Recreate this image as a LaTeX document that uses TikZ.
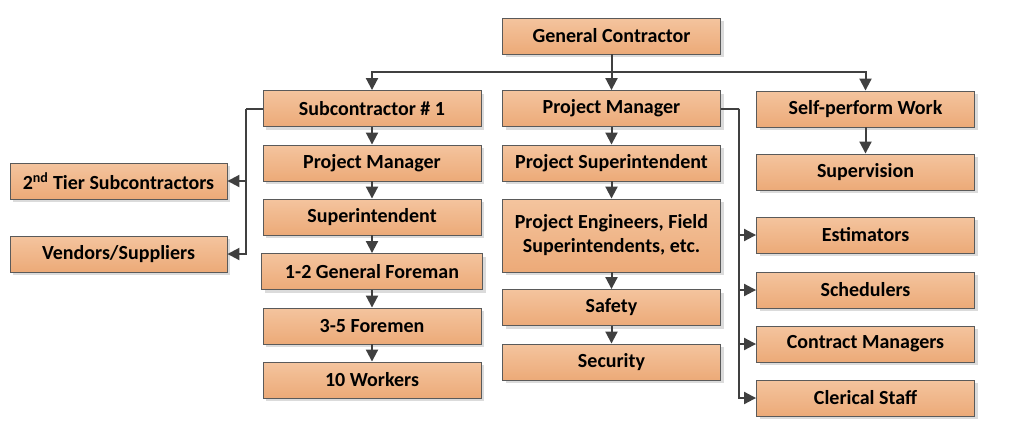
\documentclass[tikz,border=0pt]{standalone}
\usepackage{fontspec}
\setmainfont{Carlito}
\usetikzlibrary{arrows.meta,shadows}
\definecolor{boxtop}{HTML}{F4C49E}
\definecolor{boxbot}{HTML}{ECAA78}
\definecolor{boxline}{HTML}{5A5A5A}
\definecolor{conncol}{HTML}{404040}
\tikzset{
  box/.style={draw=boxline, line width=0.9pt, top color=boxtop, bottom color=boxbot,
    minimum width=218pt, minimum height=36pt, inner sep=0pt, align=center,
    font=\fontsize{20}{24}\selectfont\bfseries,
    drop shadow={shadow xshift=3pt, shadow yshift=-3pt, fill=black!14, opacity=1}},
  conn/.style={draw=conncol, line width=2pt, -{Triangle[length=12pt,width=12pt]}},
  plain/.style={draw=conncol, line width=2pt}
}
\begin{document}
\begin{tikzpicture}[x=1pt,y=-1pt]
\useasboundingbox (0,0) rectangle (1011,423);
% top
\node[box] (gc) at (611.5,36) {General Contractor};
\node[box] (sub) at (372,108.5) {Subcontractor \# 1};
\node[box] (pm) at (611.5,108.5) {Project Manager};
\node[box] (self) at (865.5,109) {Self-perform Work};
% left column
\node[box] (spm) at (372,163) {Project Manager};
\node[box] (ssup) at (372,217) {Superintendent};
\node[box, minimum width=221pt] (sgf) at (372,271.5) {1-2 General Foreman};
\node[box] (sfm) at (372,326) {3-5 Foremen};
\node[box] (swk) at (372,380) {10 Workers};
% far left
\node[box, minimum width=217pt] (tier) at (118.5,181) {2\textsuperscript{nd} Tier Subcontractors};
\node[box, minimum width=217pt] (vend) at (118.5,254) {Vendors/Suppliers};
% middle column
\node[box] (ps) at (611.5,163) {Project Superintendent};
\node[box, minimum height=73pt] (pe) at (611.5,235.5) {Project Engineers, Field\\Superintendents, etc.};
\node[box] (saf) at (611.5,307.5) {Safety};
\node[box] (sec) at (611.5,362) {Security};
% right column
\node[box] (supv) at (865.5,172) {Supervision};
\node[box] (est) at (865.5,235) {Estimators};
\node[box] (sch) at (865.5,290) {Schedulers};
\node[box] (cm) at (865.5,344) {Contract Managers};
\node[box] (cs) at (865.5,398) {Clerical Staff};
% connectors
\coordinate (bus) at (611.5,72);
\draw[plain] (gc.south) -- (bus);
\draw[conn] (bus) -- (pm.north);
\draw[conn] (bus) -| (sub.north);
\draw[conn] (bus) -| (self.north);
\draw[conn] (sub) -- (spm);
\draw[conn] (spm) -- (ssup);
\draw[conn] (ssup) -- (sgf);
\draw[conn] (sgf) -- (sfm);
\draw[conn] (sfm) -- (swk);
\draw[conn] (pm) -- (ps);
\draw[conn] (ps) -- (pe);
\draw[conn] (pe) -- (saf);
\draw[conn] (saf) -- (sec);
\draw[conn] (self) -- (supv);
\coordinate (lbr) at (246,108.5);
\draw[plain] (sub.west) -- (lbr);
\draw[conn] (lbr) |- (tier.east);
\draw[conn] (lbr) |- (vend.east);
\coordinate (rbr) at (739,108.5);
\draw[plain] (pm.east) -- (rbr);
\draw[conn] (rbr) |- (est.west);
\draw[conn] (rbr) |- (sch.west);
\draw[conn] (rbr) |- (cm.west);
\draw[conn] (rbr) |- (cs.west);
\end{tikzpicture}
\end{document}
